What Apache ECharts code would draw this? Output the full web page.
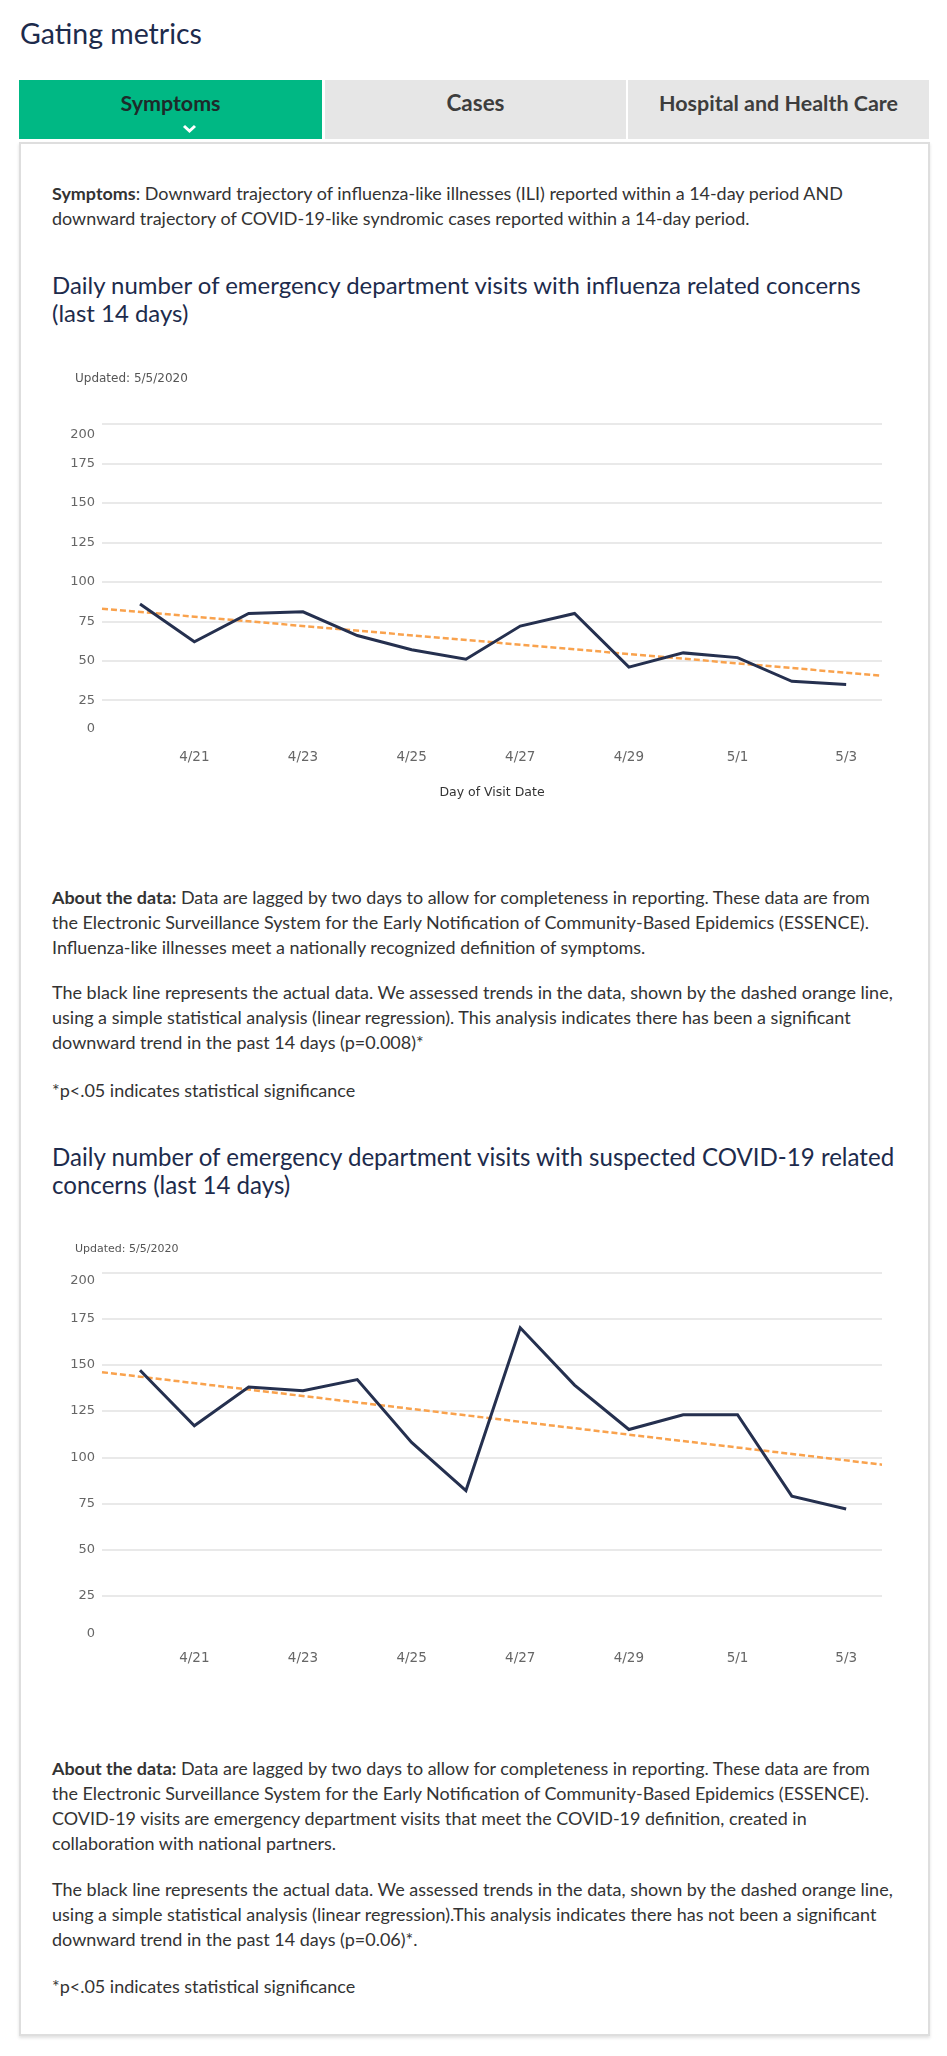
<!DOCTYPE html>
<html>
<head>
<meta charset="utf-8">
<script src="https://cdn.jsdelivr.net/npm/echarts@6/dist/echarts.min.js"></script>
<style>
  html, body { margin:0; padding:0; background:#fff; }
  body { width:947px; height:2056px; position:relative; font-family:Lato, "Open Sans", sans-serif; overflow:hidden; }
  .abs { position:absolute; white-space:nowrap; }
  h1 { position:absolute; left:20px; top:15px; margin:0; font-weight:400; font-size:28px; line-height:36px; color:#1d2b4c; white-space:nowrap; }
  .tab { position:absolute; top:80px; height:59px; text-align:center; font-weight:700; font-size:21px; color:#3d3d3d; }
  .tab .lbl { display:inline-block; margin-top:9px; line-height:28px; white-space:nowrap; }
  .box { position:absolute; left:19px; top:142px; width:907px; height:1890px; border:2px solid #dedede; box-shadow:0 2px 3px rgba(0,0,0,0.12); }
  .p { left:52px; font-size:17px; line-height:25px; color:#333; }
  .t { left:52px; font-size:23px; line-height:28.3px; color:#1d2b4c; }
  .chart { position:absolute; left:20px; width:909px; height:450px; }
</style>
</head>
<body>
<h1 data-fit="182">Gating metrics</h1>
<div class="tab" style="left:19px;width:303px;background:#00b884;color:#1e2a2a;"><span class="lbl" data-fit="100">Symptoms</span>
  <svg style="position:absolute;left:163px;top:44px;" width="15" height="10"><polyline points="2,2 7.5,7 13,2" fill="none" stroke="#fff" stroke-width="3"/></svg>
</div>
<div class="tab" style="left:325px;width:301px;background:#e6e6e6;"><span class="lbl" data-fit="58">Cases</span></div>
<div class="tab" style="left:628px;width:301px;background:#e6e6e6;"><span class="lbl" data-fit="239">Hospital and Health Care</span></div>
<div class="box"></div>

<div class="abs p" data-fit="791" style="top:181px;"><b>Symptoms</b>: Downward trajectory of influenza-like illnesses (ILI) reported within a 14-day period AND<br>downward trajectory of COVID-19-like syndromic cases reported within a 14-day period.</div>

<div class="abs t" data-fit="808" style="top:271px;">Daily number of emergency department visits with influenza related concerns<br>(last 14 days)</div>

<div id="c1" class="chart" style="top:360px;"></div>

<div class="abs p" data-fit="818" style="top:884.5px;"><b>About the data:</b> Data are lagged by two days to allow for completeness in reporting. These data are from<br>the Electronic Surveillance System for the Early Notification of Community-Based Epidemics (ESSENCE).<br>Influenza-like illnesses meet a nationally recognized definition of symptoms.</div>
<div class="abs p" data-fit="840" style="top:980px;">The black line represents the actual data. We assessed trends in the data, shown by the dashed orange line,<br>using a simple statistical analysis (linear regression). This analysis indicates there has been a significant<br>downward trend in the past 14 days (p=0.008)*</div>
<div class="abs p" data-fit="303" style="top:1077.5px;">*p&lt;.05 indicates statistical significance</div>

<div class="abs t" data-fit="842" style="top:1142.5px;">Daily number of emergency department visits with suspected COVID-19 related<br>concerns (last 14 days)</div>

<div id="c2" class="chart" style="top:1230px;"></div>

<div class="abs p" data-fit="818" style="top:1756px;"><b>About the data:</b> Data are lagged by two days to allow for completeness in reporting. These data are from<br>the Electronic Surveillance System for the Early Notification of Community-Based Epidemics (ESSENCE).<br>COVID-19 visits are emergency department visits that meet the COVID-19 definition, created in<br>collaboration with national partners.</div>
<div class="abs p" data-fit="840" style="top:1877px;">The black line represents the actual data. We assessed trends in the data, shown by the dashed orange line,<br>using a simple statistical analysis (linear regression).This analysis indicates there has not been a significant<br>downward trend in the past 14 days (p=0.06)*.</div>
<div class="abs p" data-fit="303" style="top:1973.5px;">*p&lt;.05 indicates statistical significance</div>

<script>
// ---- data ----
const dates = ['4/20','4/21','4/22','4/23','4/24','4/25','4/26','4/27','4/28','4/29','4/30','5/1','5/2','5/3'];
const xTickLabels = ['4/21','4/23','4/25','4/27','4/29','5/1','5/3'];
const yTicks = [0,25,50,75,100,125,150,175,200];
const fluVisits = [86,62,80,81,66,57,51,72,80,46,55,52,37,35];
const fluTrendEnds = [83,40.5];
const covidVisits = [147,117,138,136,142,108,82,170,139,115,123,123,79,72];
const covidTrendEnds = [146,96];
const updatedText = 'Updated: 5/5/2020';
const xAxisTitle = 'Day of Visit Date';

// x extent in day-index units (plot area reaches a bit beyond first/last day)
const xExtent = [-0.7, 13.66];
const chartFont = '"DejaVu Sans", sans-serif';

function fitText() {
  document.querySelectorAll('[data-fit]').forEach(el => {
    const target = parseFloat(el.getAttribute('data-fit'));
    const fs = parseFloat(getComputedStyle(el).fontSize);
    const w = el.getBoundingClientRect().width;
    if (w > 0) el.style.fontSize = (fs * target / w).toFixed(2) + 'px';
  });
}

function makeOption(values, trendEnds, cfg) {
  const lineData = values.map((v, i) => [i, v]);
  const trendData = [[xExtent[0], trendEnds[0]], [xExtent[1], trendEnds[1]]];
  const tickIdx = xTickLabels.map(l => dates.indexOf(l));
  const yMax = yTicks[yTicks.length - 1];
  const yMin = yTicks[0];
  const splitColors = yTicks.map((t, i) => i === 0 ? 'rgba(0,0,0,0)' : '#e2e2e2');
  const lbl = { fontFamily: chartFont, fontSize: 13, color: '#666' };
  return {
    animation: false,
    title: {
      text: updatedText, left: 50, top: cfg.updTop,
      textStyle: { fontFamily: chartFont, fontSize: cfg.updSize, fontWeight: 400, color: '#555' }
    },
    grid: { left: 82, right: 47, top: cfg.gridTop, bottom: cfg.gridBottom, containLabel: false },
    xAxis: {
      type: 'value', min: xExtent[0], max: xExtent[1],
      name: cfg.showName ? xAxisTitle : '', nameLocation: 'middle', nameGap: 47,
      nameTextStyle: { fontFamily: chartFont, fontSize: 12.5, color: '#333' },
      axisLine: { show: false }, axisTick: { show: false }, splitLine: { show: false },
      axisLabel: {
        customValues: tickIdx, margin: cfg.xMargin,
        formatter: v => dates[Math.round(v)] || '',
        fontFamily: chartFont, fontSize: 13.5, color: '#666'
      }
    },
    yAxis: {
      type: 'value', min: yMin, max: yMax, interval: 25,
      axisLine: { show: false }, axisTick: { show: false },
      splitLine: { show: true, lineStyle: { color: splitColors, width: 1.5 } },
      axisLabel: Object.assign({
        margin: 7,
        formatter: v => v === yMax ? '{hi|' + v + '}' : (v === yMin ? '{lo|' + v + '}' : String(v)),
        rich: {
          hi: Object.assign({ padding: [cfg.edgePad, 0, 0, 0] }, lbl),
          lo: Object.assign({ padding: [0, 0, cfg.edgePad, 0] }, lbl)
        }
      }, lbl)
    },
    series: [
      { type: 'line', data: trendData, symbol: 'none', z: 2,
        lineStyle: { color: '#f9a24d', width: 2.5, type: [6, 3] } },
      { type: 'line', data: lineData, symbol: 'none', z: 3,
        lineStyle: { color: '#25304f', width: 3, join: 'miter' } }
    ]
  };
}

fitText();
if (document.fonts && document.fonts.ready) document.fonts.ready.then(fitText);

const c1 = echarts.init(document.getElementById('c1'));
c1.setOption(makeOption(fluVisits, fluTrendEnds, { updTop: 8, updSize: 12, gridTop: 64, gridBottom: 70.3, xMargin: 11, showName: true, edgePad: 22 }));
const c2 = echarts.init(document.getElementById('c2'));
c2.setOption(makeOption(covidVisits, covidTrendEnds, { updTop: 9, updSize: 11, gridTop: 42.3, gridBottom: 37.8, xMargin: 9, showName: false, edgePad: 17 }));
</script>
</body>
</html>
